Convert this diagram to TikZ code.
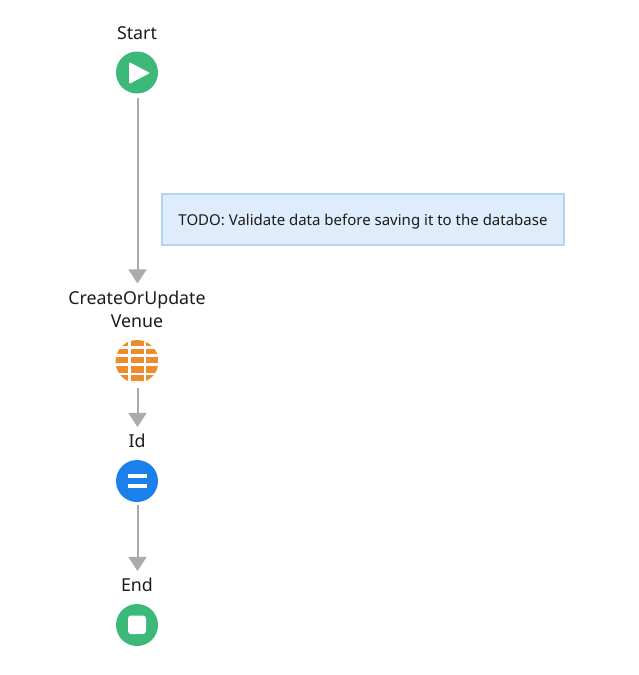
\documentclass[tikz,border=0pt]{standalone}
\usepackage{fontspec}
\setmainfont{Noto Sans}
\definecolor{flowgreen}{HTML}{3CB878}
\definecolor{flowblue}{HTML}{1B80EA}
\definecolor{floworange}{HTML}{EC8C2E}
\definecolor{flowgray}{HTML}{ABABAB}
\definecolor{notefill}{HTML}{DEECFC}
\definecolor{noteline}{HTML}{B3D4F2}
\definecolor{flowtext}{HTML}{1C1C1C}
\usetikzlibrary{arrows.meta}
\begin{document}
\begin{tikzpicture}[x=1pt,y=-1pt,
  icon/.style={circle,minimum size=42pt,inner sep=0pt,fill=#1},
  lbl/.style={font=\fontsize{17.8}{23}\selectfont,text=flowtext,align=center,inner sep=0pt},
  flow/.style={draw=flowgray,line width=2pt,-{Triangle[length=14pt,width=18pt,fill=flowgray]}},
  note/.style={draw=noteline,line width=1.2pt,fill=notefill,minimum width=402pt,minimum height=51pt,inner sep=0pt,
    font=\fontsize{15}{18}\selectfont,text=flowtext}]
\useasboundingbox (0,0) rectangle (639,675);
\fill[white] (0,0) rectangle (639,675);

\node[lbl] (startl) at (137,33) {Start};
\node[icon=flowgreen] (start) at (137,72.5) {};
\fill[white,rounded corners=1.2pt] (129,62) -- (150,73) -- (129,84) -- cycle;

\node[note] (todo) at (363,219.5) {\raisebox{-5.5pt}[0pt][0pt]{TODO: Validate data before saving it to the database}};

\node[lbl] (coul) at (137,309) {CreateOrUpdate\\Venue};
\node[icon=floworange,fill=none] (cou) at (137,361.5) {};
\begin{scope}
  \clip (137,361.5) circle (21.5pt);
  \fill[floworange] (115,340) rectangle (159,383);
  \foreach \yy in {347.2,355.5,364.7,373.9,382.6}
    \fill[white] (115,\yy-1.3) rectangle (159,\yy+1.3);
  \foreach \xx in {129.5,145}
    \fill[white] (\xx-1.3,338) rectangle (\xx+1.3,385);
\end{scope}

\node[lbl] (idl) at (137,441) {Id};
\node[icon=flowblue] (id) at (137,481) {};
\fill[white] (128,474) rectangle (146.5,478);
\fill[white] (128,484) rectangle (146.5,488);

\node[lbl] (endl) at (137,585) {End};
\node[icon=flowgreen] (end) at (137,625) {};
\fill[white,rounded corners=3pt] (128,615.5) rectangle (146,634);

\draw[flow] ([xshift=.5pt,yshift=-4.5pt]start.south) -- ([xshift=.5pt,yshift=7pt]coul.north);
\draw[flow] ([xshift=.5pt,yshift=-5pt]cou.south) -- ([xshift=.5pt,yshift=7pt]idl.north);
\draw[flow] ([xshift=.5pt,yshift=-3pt]id.south) -- ([xshift=.5pt,yshift=7pt]endl.north);
\end{tikzpicture}
\end{document}
